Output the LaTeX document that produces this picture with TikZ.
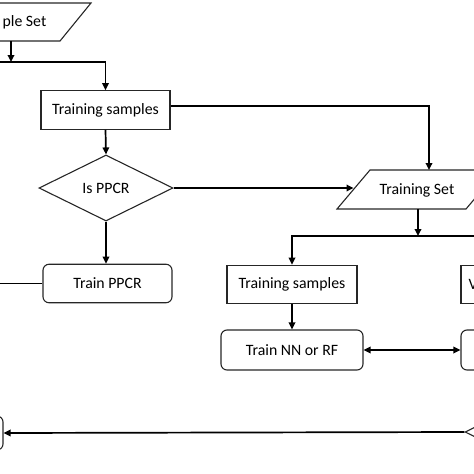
\documentclass[tikz,border=0pt]{standalone}
\usepackage{fontspec}
\setmainfont{Carlito}
\usetikzlibrary{arrows.meta,shapes.geometric}
\begin{document}
\begin{tikzpicture}[x=1pt,y=-1pt,
  lbl/.style={font=\fontsize{15.8}{18}\selectfont},
  box/.style={draw=black!85, line width=1.1pt, minimum width=129pt, minimum height=38.5pt, inner sep=0pt, lbl},
  rbox/.style={box, rounded corners=6pt},
  dia/.style={diamond, draw=black!85, line width=1.1pt, minimum width=134pt, minimum height=66pt, inner sep=0pt, lbl},
  txt/.style={inner sep=0pt, lbl},
  shapeline/.style={draw=black!85, line width=1.1pt, line join=miter},
  conn/.style={line width=1.7pt},
  tip/.tip={Triangle[length=7pt,width=6.5pt]},
  arr/.style={conn, -tip}]
\useasboundingbox (0,0) rectangle (474,474);
\clip (0,0) rectangle (474,474);

% parallelograms
\draw[shapeline] (-60,41) -- (60,41) -- (91,3) -- (-30,3) -- cycle;
\node[txt, anchor=east] (sset) at (46.5,22) {ple Set};
\draw[shapeline] (337,209) -- (370,170) -- (499,170) -- (466,209) -- cycle;
\node[txt] (tset) at (417,190) {Training Set};

% boxes
\node[box] (ts1) at (105.5,110) {Training samples};
\node[dia] (isp) at (106,188) {Is PPCR};
\node[rbox] (tppcr) at (107.5,283.5) {Train PPCR};
\node[box, minimum width=130pt] (ts2) at (292,284.5) {Training samples};
\node[rbox, minimum width=142pt, minimum height=40pt] (tnn) at (292,350) {Train NN or RF};
\node[box, minimum width=130pt] (vbox) at (526,284.5) {};
\node[txt, anchor=west] (vtxt) at (468.5,284) {V};
\node[rbox, minimum width=130pt, minimum height=40pt] (rr) at (526,350) {};
\node[dia] (dd) at (532,432) {};
\node[rbox, minimum width=126pt, minimum height=34pt] (lb) at (-60,433) {};

% coordinates
\coordinate (ssB) at (11,41);
\coordinate (j1) at (11,62);
\coordinate (jL) at (-5,62);
\coordinate (tsetN) at (429,170);
\coordinate (tsetW) at (353.5,188);
\coordinate (tsetS) at (418,209);
\coordinate (j2) at (418,236);
\coordinate (jR) at (480,236);
\coordinate (lL) at (-5,283.5);

% connectors
\draw[arr] (ssB) -- (j1);
\draw[arr] (jL) -| (ts1.north);
\draw[arr] ([yshift=4pt]ts1.east) -| (tsetN);
\draw[arr] (ts1.south) -- (isp.north);
\draw[arr] (isp.east) -- (tsetW);
\draw[arr] (isp.south) -- (isp.south |- tppcr.north);
\draw[conn] (tppcr.west) -- (lL);
\draw[arr] (tsetS) -- (j2);
\draw[arr] (jR) -| (ts2.north);
\draw[arr] (ts2.south) -- (tnn.north);
\draw[conn, tip-tip] (tnn.east) -- (rr.west);
\draw[arr] (dd.west) -- (lb.east);
\end{tikzpicture}
\end{document}
